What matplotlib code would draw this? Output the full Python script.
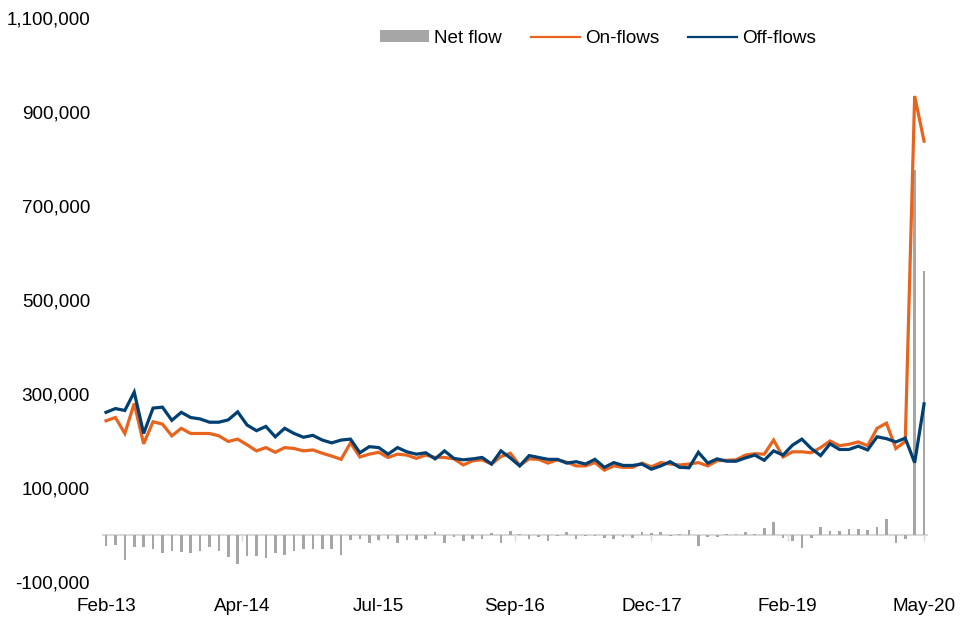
import matplotlib
matplotlib.use("Agg")
import matplotlib.pyplot as plt
import numpy as np
from matplotlib.ticker import FuncFormatter, FixedLocator
from matplotlib.patches import Patch
from matplotlib.lines import Line2D

plt.rcParams['font.family'] = ['Liberation Sans', 'DejaVu Sans']

# Monthly, Feb-2013 .. May-2020 (thousands)
on_flows_k = [243, 250, 216, 280, 194, 241, 236, 211, 227, 216, 216, 216, 211, 199, 204, 192,
              179, 186, 176, 186, 184, 179, 181, 174, 168, 161, 196, 166, 172, 176, 165, 172,
              170, 163, 170, 165, 165, 162, 149, 158, 160, 151, 167, 174, 148, 162, 161, 153,
              160, 155, 147, 147, 154, 138, 147, 144, 144, 153, 145, 154, 151, 149, 151, 154,
              147, 158, 159, 160, 170, 173, 172, 202, 166, 177, 177, 175, 186, 200, 190, 193,
              198, 190, 227, 238, 184, 199, 934, 838]
off_flows_k = [261, 269, 265, 304, 216, 270, 272, 244, 261, 250, 247, 240, 240, 245, 262, 234,
               222, 231, 209, 227, 216, 208, 212, 202, 196, 202, 204, 175, 188, 186, 172, 186,
               177, 172, 175, 162, 179, 163, 160, 162, 165, 151, 179, 164, 147, 169, 165, 161,
               161, 153, 156, 151, 161, 144, 154, 148, 148, 151, 140, 147, 156, 144, 143, 176,
               153, 162, 157, 157, 164, 170, 159, 179, 170, 191, 204, 184, 169, 194, 182, 182,
               189, 181, 209, 205, 198, 206, 154, 279]
net_flow_k = [-23, -21, -53, -26, -26, -30, -38, -33, -37, -38, -35, -26, -33, -47, -62, -45,
              -45, -48, -38, -43, -35, -30, -30, -29, -29, -42, -10, -9, -18, -10, -8, -18,
              -11, -10, -8, 6, -17, -4, -12, -8, -8, 4, -18, 9, 3, -8, -5, -12,
              -3, 6, -8, -3, -3, -7, -8, -5, -7, 6, 5, 7, -3, 2, 11, -23,
              -5, -5, 2, 2, 7, 3, 15, 27, -7, -13, -28, -7, 18, 8, 8, 13,
              13, 10, 18, 34, -17, -9, 777, 562]
tick_labels = ["Feb-13", "Apr-14", "Jul-15", "Sep-16", "Dec-17", "Feb-19", "May-20"]
y_ticks = [-100000, 100000, 300000, 500000, 700000, 900000, 1100000]

on_flows = np.array(on_flows_k) * 1000
off_flows = np.array(off_flows_k) * 1000
net_flow = np.array(net_flow_k) * 1000
x = np.arange(len(on_flows))

ORANGE = "#E8641E"
BLUE = "#003F72"
GREY = "#A6A6A6"
AXGREY = "#D9D9D9"
FS = 13.6

fig = plt.figure(figsize=(9.6, 6.4), dpi=100)
ax = fig.add_axes([0.1075, 0.0906, 0.858, 0.8813])

ax.bar(x, net_flow, width=0.28, color=GREY, zorder=2)
ax.plot(x, on_flows, color=ORANGE, lw=2.3, zorder=3, solid_joinstyle='miter')
ax.plot(x, off_flows, color=BLUE, lw=2.3, zorder=4, solid_joinstyle='miter')

ax.set_xlim(-0.3, len(x) - 0.7)
ax.set_ylim(-100000, 1100000)

for s in ['top', 'right', 'left']:
    ax.spines[s].set_visible(False)
ax.spines['bottom'].set_position(('data', 0))
ax.spines['bottom'].set_color(AXGREY)
ax.spines['bottom'].set_linewidth(1.5)
ax.spines['bottom'].set_zorder(1)

ax.xaxis.set_major_locator(FixedLocator(np.linspace(0, len(x) - 1, len(tick_labels))))
ax.set_xticklabels(tick_labels)
ax.tick_params(axis='x', direction='out', length=4, width=1, color=AXGREY,
               pad=41.5, labelsize=FS, labelcolor='black')
ax.yaxis.set_major_locator(FixedLocator(y_ticks))
ax.yaxis.set_major_formatter(FuncFormatter(lambda v, p: f"{v:,.0f}"))
ax.tick_params(axis='y', length=0, pad=9.5, labelsize=FS, labelcolor='black')

handles = [Patch(facecolor=GREY, edgecolor='none', label='Net flow'),
           Line2D([], [], color=ORANGE, lw=1.6, label='On-flows'),
           Line2D([], [], color=BLUE, lw=1.6, label='Off-flows')]
fig.legend(handles=handles, loc='center', bbox_to_anchor=(0.623, 0.94), ncol=3,
           frameon=False, fontsize=FS, handlelength=2.6, handleheight=0.6,
           handletextpad=0.25, columnspacing=1.55, borderpad=0)

fig.savefig("out.png", dpi=100)
